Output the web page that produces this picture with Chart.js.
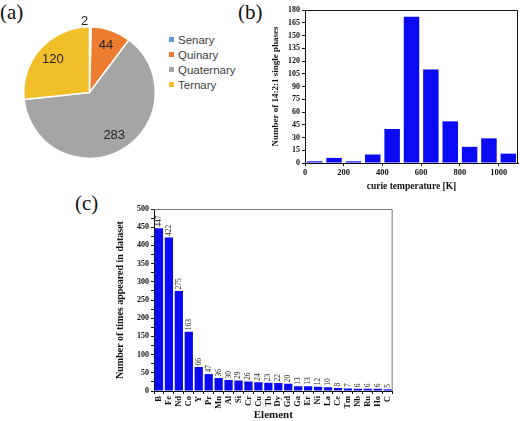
<!DOCTYPE html>
<html>
<head>
<meta charset="utf-8">
<script src="https://cdn.jsdelivr.net/npm/chart.js@4.4.1/dist/chart.umd.min.js"></script>
<style>
    body { margin: 0; width: 520px; height: 421px; position: relative; overflow: hidden; background: #fff; }
    canvas, .abs { position: absolute; }
    .tag { font-family: 'Liberation Serif', serif; font-size: 21px; color: #111; line-height: 1; }
    .legend { font-family: 'Liberation Sans', sans-serif; font-size: 11.5px; color: #404040; left: 169px; top: 33px; }
    .legend div { height: 15px; line-height: 15px; white-space: nowrap; }
    .legend span { display: inline-block; width: 5px; height: 5px; margin-right: 4px; vertical-align: 2px; }
</style>
</head>
<body>
<div class="abs tag" style="left:0px;top:2px">(a)</div>
<div class="abs tag" style="left:238px;top:2px">(b)</div>
<div class="abs tag" style="left:75px;top:193px">(c)</div>
<div class="abs legend" id="pieLegend"></div>
<canvas id="pieChart" width="178" height="184" style="left:0px;top:0px;width:178px;height:184px"></canvas>
<canvas id="curieChart" width="258" height="195" style="left:262px;top:0px;width:258px;height:195px"></canvas>
<canvas id="elementChart" width="300" height="226" style="left:100px;top:195px;width:300px;height:226px"></canvas>
<script>
// (a) phase types
const phaseLabels = ['Senary', 'Quinary', 'Quaternary', 'Ternary'];
const phaseCounts = [2, 44, 283, 120];
const phaseColors = ['#5b9bd5', '#ed7d31', '#a5a5a5', '#f2bf2a'];

// (b) curie temperature histogram, bins of 100 K
const curieBinCenters = [50, 150, 250, 350, 450, 550, 650, 750, 850, 950, 1050];
const curieCounts = [2, 6, 2, 10, 40, 172, 110, 49, 19, 29, 11];

// (c) element occurrence
const elements = ['B', 'Fe', 'Nd', 'Co', 'Y', 'Pr', 'Mn', 'Al', 'Si', 'Cr', 'Cu', 'Tb',
    'Dy', 'Gd', 'Ga', 'Er', 'Ni', 'La', 'Ce', 'Tm', 'Nb', 'Ru', 'Ho', 'C'];
const elementCounts = [447, 422, 275, 163, 66, 47, 36, 30, 29, 26, 24, 23,
    22, 20, 13, 13, 12, 10, 8, 7, 6, 6, 6, 5];

const serif = "'Liberation Serif', 'Times New Roman', serif";
const ink = '#111';

// legend for the pie
document.getElementById('pieLegend').innerHTML = phaseLabels.map((label, i) =>
    `<div><span style="background:${phaseColors[i]}"></span>${label}</div>`).join('');

// draws the value of each slice
const sliceLabels = {
    id: 'sliceLabels',
    afterDatasetsDraw(chart) {
        const ctx = chart.ctx;
        const radiusFactor = [1.08, 0.76, 0.76, 0.75];
        const shiftX = [-6, 0, 0, 0];
        ctx.save();
        ctx.font = "13px 'Liberation Sans', sans-serif";
        ctx.fillStyle = '#262626';
        ctx.textAlign = 'center';
        ctx.textBaseline = 'middle';
        chart.getDatasetMeta(0).data.forEach((arc, i) => {
            const mid = (arc.startAngle + arc.endAngle) / 2;
            const r = arc.outerRadius * radiusFactor[i];
            ctx.fillText(String(phaseCounts[i]), arc.x + Math.cos(mid) * r + shiftX[i], arc.y + Math.sin(mid) * r);
        });
        ctx.restore();
    }
};

// box around the plot area
const frameBox = {
    id: 'frameBox',
    afterDraw(chart, args, opts) {
        const a = chart.chartArea;
        const ctx = chart.ctx;
        ctx.save();
        ctx.strokeStyle = opts.color || ink;
        ctx.lineWidth = 1;
        ctx.beginPath();
        ctx.moveTo(a.left, a.top + 0.5);
        ctx.lineTo(a.right - 0.5, a.top + 0.5);
        ctx.lineTo(a.right - 0.5, a.bottom);
        ctx.stroke();
        ctx.restore();
    }
};

// rotated value above each bar
const barValues = {
    id: 'barValues',
    afterDatasetsDraw(chart) {
        const ctx = chart.ctx;
        ctx.save();
        ctx.font = '7.5px ' + serif;
        ctx.fillStyle = '#222';
        ctx.textAlign = 'left';
        ctx.textBaseline = 'middle';
        chart.getDatasetMeta(0).data.forEach((bar, i) => {
            ctx.save();
            ctx.translate(bar.x, bar.y - 1.5);
            ctx.rotate(-Math.PI / 2);
            ctx.fillText(String(elementCounts[i]), 0, 0);
            ctx.restore();
        });
        ctx.restore();
    }
};

new Chart(document.getElementById('pieChart'), {
    type: 'pie',
    data: {
        labels: phaseLabels,
        datasets: [{
            data: phaseCounts,
            backgroundColor: phaseColors,
            borderColor: '#fff',
            borderWidth: 1.5
        }]
    },
    options: {
        responsive: false,
        animation: false,
        layout: { padding: { left: 23, right: 22, top: 25, bottom: 24 } },
        plugins: { legend: { display: false }, tooltip: { enabled: false } }
    },
    plugins: [sliceLabels]
});

const axisLine = { color: ink, width: 1 };
const tickMarks = { drawOnChartArea: false, drawTicks: true, tickLength: 3, color: ink, offset: false };

new Chart(document.getElementById('curieChart'), {
    type: 'bar',
    data: {
        datasets: [{
            data: curieBinCenters.map((x, i) => ({ x: x, y: curieCounts[i] })),
            backgroundColor: '#0a0af5',
            borderWidth: 0,
            categoryPercentage: 1,
            barPercentage: 0.8
        }]
    },
    options: {
        responsive: false,
        animation: false,
        layout: { padding: { top: 10, right: 2 } },
        scales: {
            x: {
                type: 'linear',
                min: 0,
                max: 1100,
                offset: false,
                bounds: 'data',
                afterBuildTicks: s => { s.ticks = s.ticks.filter(t => t.value <= 1000); },
                afterFit: s => { s.height = 32; },
                ticks: { stepSize: 200, includeBounds: false, color: ink, padding: 2, maxRotation: 0,
                    callback: v => String(v),
                    font: { family: serif, size: 8.5, weight: 'bold' } },
                grid: tickMarks,
                border: axisLine,
                title: { display: true, text: 'curie temperature [K]', color: ink, padding: { top: 0, bottom: 3 },
                    font: { family: serif, size: 9.5, weight: 'bold' } }
            },
            y: {
                min: 0,
                max: 180,
                afterFit: s => { s.width = 43; },
                ticks: { stepSize: 15, color: ink, padding: 2, autoSkip: false,
                    font: { family: serif, size: 8, weight: 'bold' } },
                grid: tickMarks,
                border: axisLine,
                title: { display: true, text: 'Number of 14:2:1 single phases', color: ink, padding: { top: 8, bottom: 0 },
                    font: { family: serif, size: 9, weight: 'bold' } }
            }
        },
        plugins: { legend: { display: false }, tooltip: { enabled: false } }
    },
    plugins: [frameBox]
});

new Chart(document.getElementById('elementChart'), {
    type: 'bar',
    data: {
        labels: elements,
        datasets: [{
            data: elementCounts,
            backgroundColor: '#0a0af5',
            borderWidth: 0,
            categoryPercentage: 1,
            barPercentage: 0.83
        }]
    },
    options: {
        responsive: false,
        animation: false,
        layout: { padding: { top: 14, right: 6 } },
        scales: {
            x: {
                afterFit: s => { s.height = 30; },
                ticks: { color: ink, padding: 2, autoSkip: false, minRotation: 90, maxRotation: 90,
                    font: { family: serif, size: 8.5, weight: 'bold' } },
                grid: { drawOnChartArea: false, drawTicks: true, tickLength: 3, color: ink },
                border: axisLine,
                title: { display: true, text: 'Element', color: ink, padding: 0,
                    font: { family: serif, size: 11, weight: 'bold', lineHeight: 1 } }
            },
            y: {
                min: 0,
                max: 500,
                afterFit: s => { s.width = 54; },
                ticks: { stepSize: 25, color: ink, padding: 2, autoSkip: false,
                    callback: v => (v % 50 === 0 ? v : ''),
                    font: { family: serif, size: 8, weight: 'bold' } },
                grid: tickMarks,
                border: axisLine,
                title: { display: true, text: 'Number of times appeared in dataset', color: ink, padding: { top: 14, bottom: 0 },
                    font: { family: serif, size: 10, weight: 'bold' } }
            }
        },
        plugins: { legend: { display: false }, tooltip: { enabled: false }, frameBox: { color: '#777' } }
    },
    plugins: [frameBox, barValues]
});
</script>
</body>
</html>
